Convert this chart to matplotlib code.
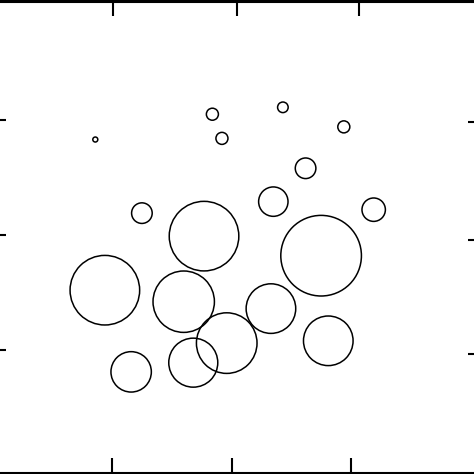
import numpy as np
import matplotlib
matplotlib.use('Agg')
import matplotlib.pyplot as plt

# bubble data
x = [0.86, 1.84, 1.92, 1.25, 1.77, 2.43, 2.94, 2.62, 2.35,
     3.19, 2.75, 0.94, 1.60, 1.16, 1.68, 1.96, 2.33, 2.81]
y = [2.83, 3.05, 2.84, 2.19, 1.99, 3.11, 2.94, 2.58, 2.29,
     2.22, 1.82, 1.52, 1.42, 0.81, 0.89, 1.06, 1.36, 1.08]
size = [13, 75, 75, 220, 2510, 58, 75, 220, 448,
        284, 3370, 2510, 1954, 846, 1245, 1904, 1275, 1275]

bottom_ticks = [1, 2, 3]
top_ticks = [1.008, 2.046, 3.067]
left_ticks = [1, 2, 3]
right_ticks = [0.965, 1.957, 2.983]

fig = plt.figure(figsize=(4.74, 4.74), dpi=100)
ax = fig.add_axes([-9 / 474, 1.5 / 474, 492 / 474, 471 / 474])

ax.scatter(x, y, s=size, facecolors='none', edgecolors='black', linewidths=1.1)

ax.set_xlim(-0.013, 4.105)
ax.set_ylim(-0.065, 4.03)

ax.set_xticks(bottom_ticks)
ax.set_yticks(left_ticks)
ax.tick_params(direction='in', length=10.5, width=1.5, labelbottom=False,
               labelleft=False, top=False, right=False)

top = ax.secondary_xaxis('top')
top.set_xticks(top_ticks)
top.tick_params(direction='in', length=10.5, width=1.5, labeltop=False)

right = ax.secondary_yaxis('right')
right.set_yticks(right_ticks)
right.tick_params(direction='in', length=10.5, width=1.5, labelright=False)

for a in (ax, top, right):
    for sp in a.spines.values():
        sp.set_linewidth(1.5)

fig.savefig('out.png', dpi=100)
